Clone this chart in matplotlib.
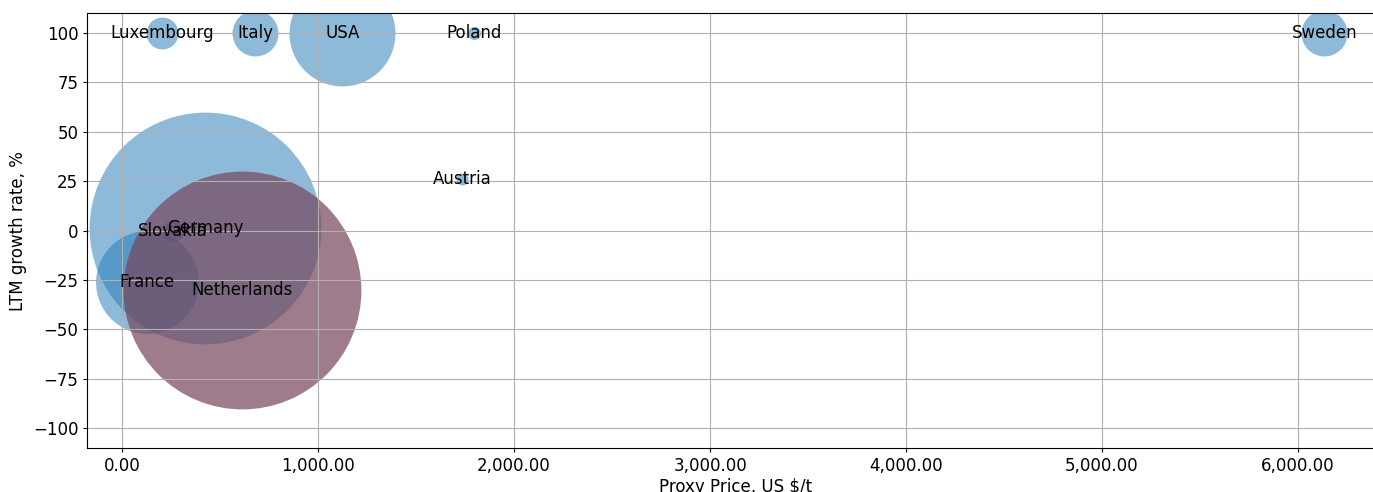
import matplotlib
matplotlib.use("Agg")
import matplotlib.pyplot as plt
from matplotlib.ticker import StrMethodFormatter

countries = ["Luxembourg", "Italy", "USA", "Poland", "Austria", "Sweden",
             "Germany", "Slovakia", "France", "Netherlands"]
proxy_price = [203, 680, 1124, 1797, 1733, 6134, 425, 260, 125, 612]
growth_rate = [100, 100, 100, 100, 26, 100, 1.5, 0, -26, -30]
volume = [530, 1095, 5815, 90, 75, 1095, 27855, 250, 5490, 29313]
highlight = "Netherlands"

plt.rcParams["font.size"] = 12

fig = plt.figure(figsize=(13.73, 4.92), dpi=100)
ax = fig.add_axes([87.3 / 1373, 44 / 492, (1383 - 87.3) / 1373, (448 - 13.3) / 492])

for name, x, y, s in zip(countries, proxy_price, growth_rate, volume):
    if name == highlight:
        ax.scatter(x, y, s=s, color="#76455c", alpha=0.7, linewidths=0)
    else:
        ax.scatter(x, y, s=s, color="#1f77b4", alpha=0.5, linewidths=0)

for name, x, y in zip(countries, proxy_price, growth_rate):
    ax.text(x, y, name, ha="center", va="center", fontsize=12)

ax.set_xlim(-178, 6434)
ax.set_ylim(-110, 110)
ax.set_yticks([-100, -75, -50, -25, 0, 25, 50, 75, 100])
ax.xaxis.set_major_formatter(StrMethodFormatter("{x:,.2f}"))
ax.tick_params(length=3)
ax.grid(True, color="#b0b0b0", linewidth=0.8)
ax.set_xlabel("Proxy Price, US $/t", labelpad=2)
ax.set_ylabel("LTM growth rate, %")

fig.savefig("out.png", dpi=100)
